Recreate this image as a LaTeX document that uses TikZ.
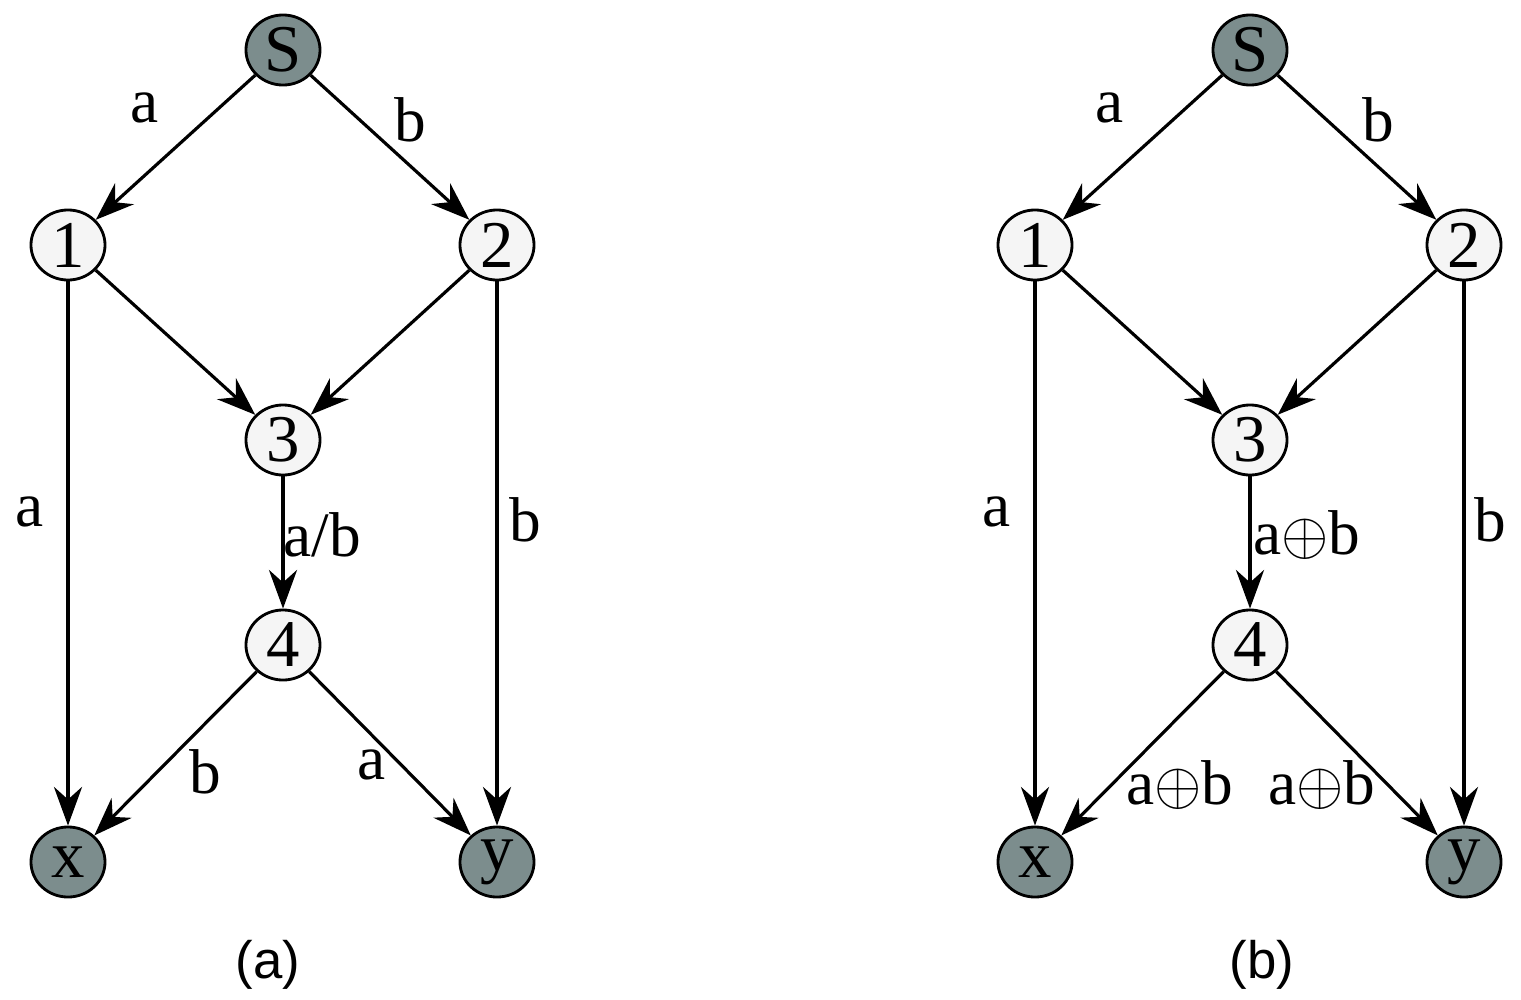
\documentclass[tikz,border=0pt]{standalone}
\usetikzlibrary{arrows.meta,shapes.geometric}
\usepackage{fontspec}
\setmainfont{Liberation Serif}
\newfontfamily\capf{Liberation Sans}
\definecolor{dkg}{HTML}{7C8D8D}
\begin{document}
\begin{tikzpicture}[x=0.01cm,y=-0.01cm,
  nd/.style={ellipse,draw,line width=0.8pt,minimum width=0.74cm,minimum height=0.7cm,inner sep=0pt,font=\fontsize{19}{20}\selectfont},
  dk/.style={nd,fill=dkg},
  lt/.style={nd,fill=gray!8},
  ar/.style={line width=0.9pt,-{Stealth[length=11pt,width=8pt]}},
  lb/.style={font=\fontsize{18}{20}\selectfont},
  cp/.style={font=\capf\fontsize{15}{18}\selectfont}]
\useasboundingbox (0,0) rectangle (1521,1000);
\foreach \p/\ox in {L/0,R/967}{
  \node[dk] (\p S) at (283+\ox,50) {S};
  \node[lt] (\p1) at (68+\ox,245) {1};
  \node[lt] (\p2) at (497+\ox,245) {2};
  \node[lt] (\p3) at (283+\ox,440) {3};
  \node[lt] (\p4) at (283+\ox,645) {4};
  \node[dk] (\p x) at (68+\ox,862) {x};
  \node[dk] (\p y) at (497+\ox,862) {y};
  \draw[ar] (\p S) -- (\p1);
  \draw[ar] (\p S) -- (\p2);
  \draw[ar] (\p1) -- (\p3);
  \draw[ar] (\p2) -- (\p3);
  \draw[ar] (\p3) -- (\p4);
  \draw[ar] (\p1) -- (\p x);
  \draw[ar] (\p2) -- (\p y);
  \draw[ar] (\p4) -- (\p x);
  \draw[ar] (\p4) -- (\p y);
}
\node[lb] (la1) at (145,108) {a};
\node[lb] (lb1) at (410,120) {b};
\node[lb] (la2) at (30,512) {a};
\node[lb] (lb2) at (525,520) {b};
\node[lb] (lab) at (322,535) {a/b};
\node[lb] (lb3) at (205,772) {b};
\node[lb] (la3) at (372,765) {a};
\node[lb] (ra1) at (1110,108) {a};
\node[lb] (rb1) at (1378,120) {b};
\node[lb] (ra2) at (997,512) {a};
\node[lb] (rb2) at (1490,520) {b};
\node[lb] (rab) at (1307,535) {a$\oplus$b};
\node[lb] (rab2) at (1180,785) {a$\oplus$b};
\node[lb] (rab3) at (1322,785) {a$\oplus$b};
\node[cp] (ca) at (268,965) {(a)};
\node[cp] (cb) at (1262,965) {(b)};
\end{tikzpicture}
\end{document}
